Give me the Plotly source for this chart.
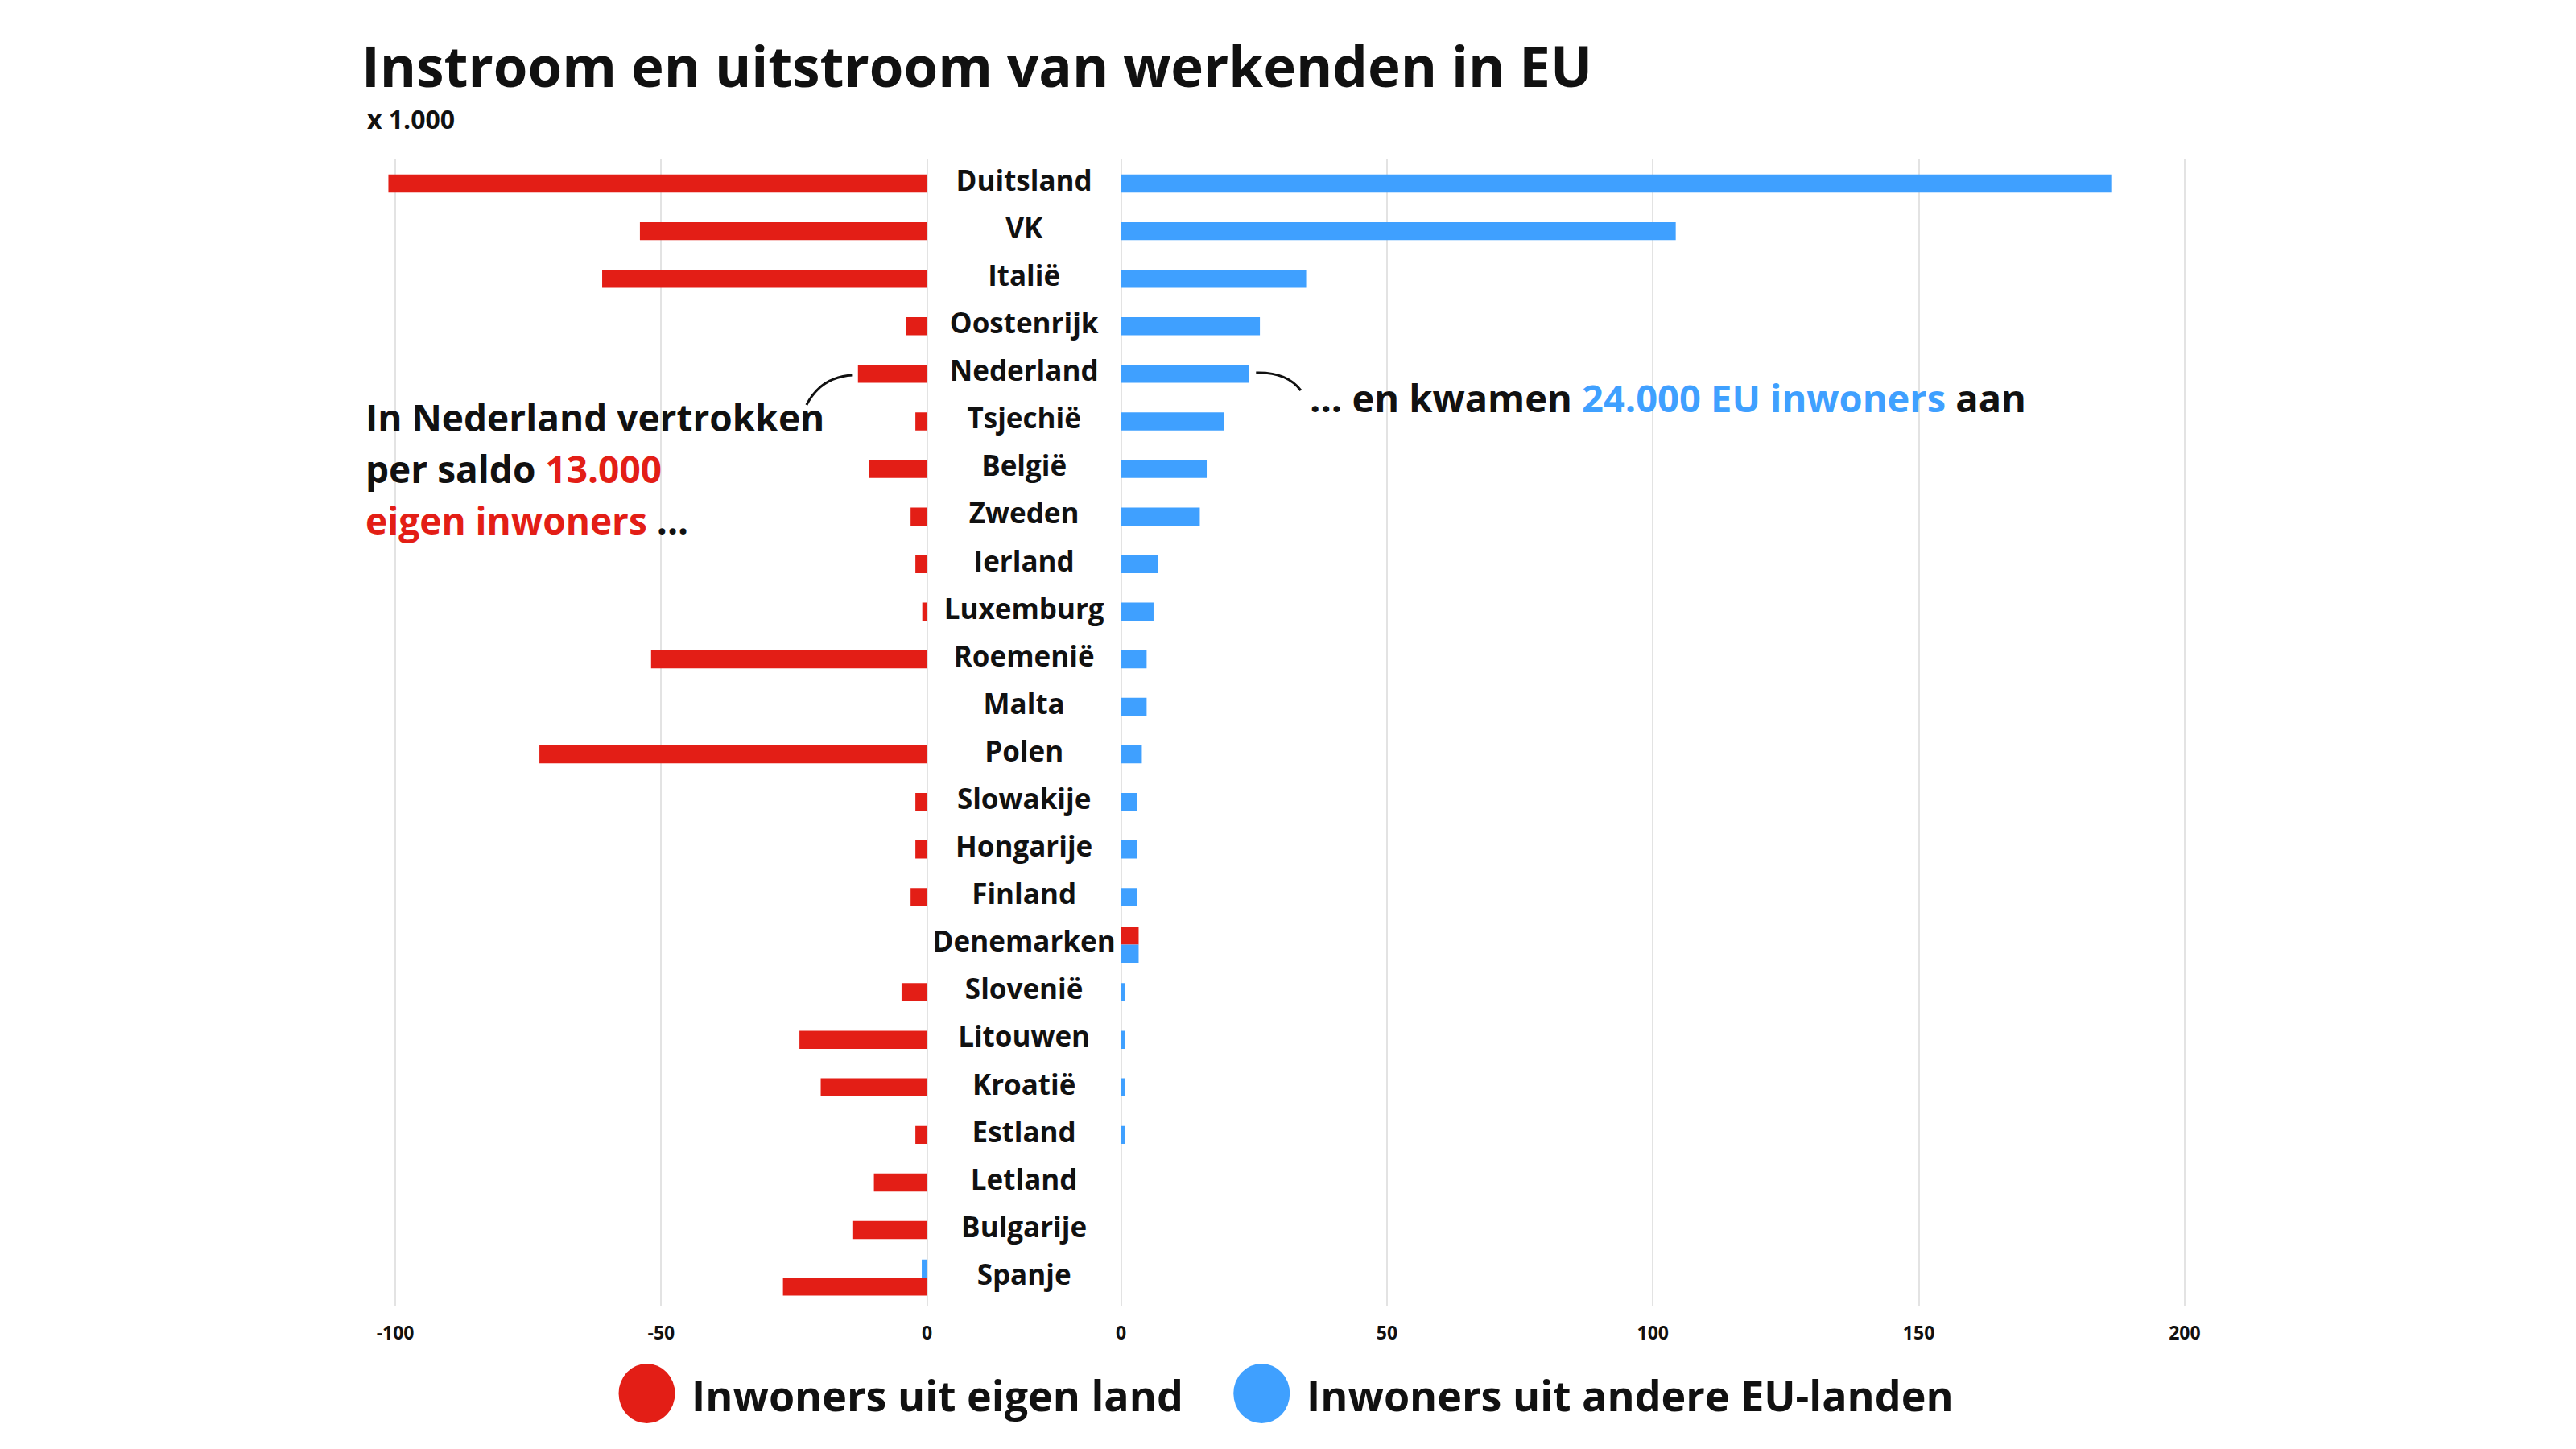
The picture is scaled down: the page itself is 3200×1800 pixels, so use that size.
import plotly.graph_objects as go

# ---------------- data ----------------
landen = ["Duitsland", "VK", "Italië", "Oostenrijk", "Nederland", "Tsjechië", "België",
          "Zweden", "Ierland", "Luxemburg", "Roemenië", "Malta", "Polen", "Slowakije",
          "Hongarije", "Finland", "Denemarken", "Slovenië", "Litouwen", "Kroatië",
          "Estland", "Letland", "Bulgarije", "Spanje"]
eigen_land = [-101.3, -54.0, -61.1, -3.9, -13.0, -2.2, -10.9, -3.1, -2.2, -0.9, -51.9, 0.0,
              -72.9, -2.2, -2.2, -3.1, 3.3, -4.8, -24.0, -20.0, -2.2, -10.0, -13.9, -27.1]
andere_eu = [186.2, 104.3, 34.8, 26.1, 24.1, 19.3, 16.1, 14.8, 7.0, 6.1, 4.8, 4.8,
             3.9, 3.0, 3.0, 3.0, 3.3, 0.8, 0.8, 0.8, 0.8, 0.0, 0.0, -1.0]
ticks_links = [-100, -50, 0]
ticks_links_tekst = ["-100", "-50", "0"]
ticks_rechts = [0, 50, 100, 150, 200]
ticks_rechts_tekst = ["0", "50", "100", "150", "200"]

# ---------------- style ----------------
W, H = 3200, 1800
RED = "#E31E16"
BLUE = "#3FA0FF"
GRID = "#E3E3E3"
FONT = "Open Sans"
BW = 0.38


def px(x):
    return x / W


def py(y):
    return 1 - y / H


# offsets: when both values fall on the same side, the "intruding" bar goes above
def offsets(vals, others, native_sign):
    out = []
    for v, o in zip(vals, others):
        same = v != 0 and o != 0 and (v > 0) == (o > 0)
        if same:
            intruder = (v > 0) != (native_sign > 0)
            out.append(-BW if intruder else 0.0)
        else:
            out.append(-BW / 2)
    return out


red_off = offsets(eigen_land, andere_eu, -1)
blue_off = offsets(andere_eu, eigen_land, 1)

fig = go.Figure()
for xa in ["x", "x3"]:
    fig.add_trace(go.Bar(y=landen, x=eigen_land, orientation="h", xaxis=xa, yaxis="y",
                         marker=dict(color=RED, line=dict(width=0)),
                         width=BW, offset=red_off, name="Inwoners uit eigen land",
                         showlegend=False, hoverinfo="x+y"))
    fig.add_trace(go.Bar(y=landen, x=andere_eu, orientation="h", xaxis=xa, yaxis="y",
                         marker=dict(color=BLUE, line=dict(width=0)),
                         width=BW, offset=blue_off, name="Inwoners uit andere EU-landen",
                         showlegend=False, hoverinfo="x+y"))

# country labels in the middle column
fig.add_trace(go.Scatter(y=landen, x=[0] * len(landen), xaxis="x2", yaxis="y",
                         mode="text", text=landen, textposition="middle center",
                         textfont=dict(family=FONT, size=35, color="#111111", weight="bold"),
                         showlegend=False, hoverinfo="skip"))

x_left0, x_right0 = 1151.0, 1394.0
scale = 6.66
left_range = [-102.0, 0]
right_range = [0, 200.6]

axis_common = dict(showgrid=True, gridcolor=GRID, gridwidth=2, zeroline=True,
                   zerolinecolor=GRID, zerolinewidth=2, showline=False, ticks="",
                   tickfont=dict(family=FONT, size=23, color="#111111", weight="bold"),
                   ticklabelstandoff=18, fixedrange=True)

fig.update_layout(
    width=W, height=H,
    margin=dict(l=0, r=0, t=0, b=0),
    paper_bgcolor="white", plot_bgcolor="white",
    barmode="overlay",
    showlegend=False,
    xaxis=dict(domain=[px(x_left0 + left_range[0] * scale), px(x_left0)], range=left_range,
               tickvals=ticks_links, ticktext=ticks_links_tekst, anchor="y", **axis_common),
    xaxis2=dict(domain=[px(x_left0), px(x_right0)], range=[-1, 1], visible=False, anchor="y"),
    xaxis3=dict(domain=[px(x_right0), px(x_right0 + right_range[1] * scale)], range=right_range,
                tickvals=ticks_rechts, ticktext=ticks_rechts_tekst, anchor="y", **axis_common),
    yaxis=dict(domain=[py(1622), py(197)], range=[23.59, -0.525], type="category",
               categoryorder="array", categoryarray=landen,
               showgrid=False, zeroline=False, showticklabels=False, ticks="", fixedrange=True),
)

# title and unit
fig.add_annotation(x=px(441), y=py(81), xref="paper", yref="paper", xanchor="left",
                   yanchor="middle", showarrow=False,
                   text="Instroom en uitstroom van werkenden in EU",
                   font=dict(family=FONT, size=69, color="#111111", weight="bold"))
fig.add_annotation(x=px(448), y=py(148), xref="paper", yref="paper", xanchor="left",
                   yanchor="middle", showarrow=False, text="x 1.000",
                   font=dict(family=FONT, size=32, color="#111111", weight="bold"))

# explanatory texts
ann_font = dict(family=FONT, size=46, color="#111111", weight="bold")
for txt, yy in [("In Nederland vertrokken", 518),
                (f"per saldo <span style='color:{RED}'>13.000</span>", 582),
                (f"<span style='color:{RED}'>eigen inwoners</span> ...", 646)]:
    fig.add_annotation(x=px(446), y=py(yy), xref="paper", yref="paper", xanchor="left",
                       yanchor="middle", showarrow=False, text=txt, font=ann_font)
fig.add_annotation(x=px(1628), y=py(494), xref="paper", yref="paper", xanchor="left",
                   yanchor="middle", showarrow=False,
                   text=f"... en kwamen <span style='color:{BLUE}'>24.000 EU inwoners</span> aan",
                   font=dict(family=FONT, size=47, color="#111111", weight="bold"))

# connector curves
fig.add_shape(type="path", xref="paper", yref="paper",
              path=f"M {px(1058)},{py(466)} Q {px(1018)},{py(468)} {px(1000)},{py(503)}",
              line=dict(color="#111111", width=3))
fig.add_shape(type="path", xref="paper", yref="paper",
              path=f"M {px(1563)},{py(463)} Q {px(1602)},{py(462)} {px(1619)},{py(485)}",
              line=dict(color="#111111", width=3))

# legend (drawn manually to match the large circles)
for cx, col, lab, tx in [(800, RED, "Inwoners uit eigen land", 854),
                         (1570, BLUE, "Inwoners uit andere EU-landen", 1624)]:
    fig.add_shape(type="circle", xref="paper", yref="paper", xsizemode="pixel",
                  ysizemode="pixel", xanchor=px(cx), yanchor=py(1731),
                  x0=-35, x1=35, y0=-37, y1=37, fillcolor=col, line=dict(width=0))
    fig.add_annotation(x=px(tx), y=py(1732), xref="paper", yref="paper", xanchor="left",
                       yanchor="middle", showarrow=False, text=lab,
                       font=dict(family=FONT, size=52, color="#111111", weight="bold"))

fig.write_html("out.html")
